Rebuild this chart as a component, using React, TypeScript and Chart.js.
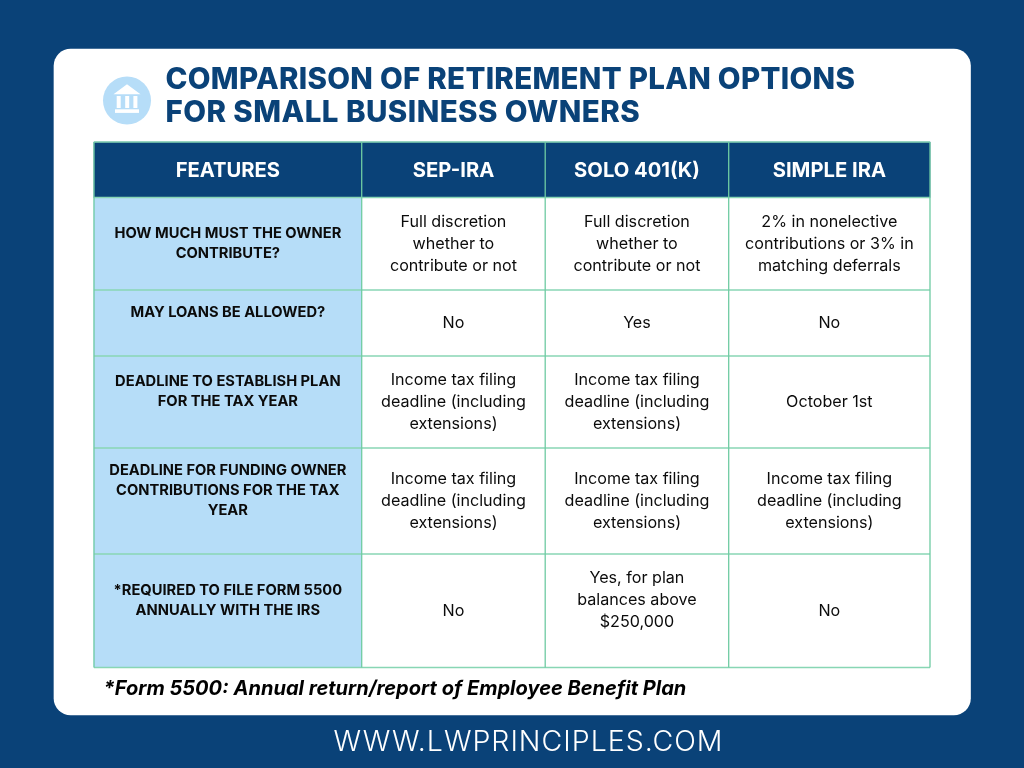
import React, { useEffect, useRef } from "react";
import { Chart, registerables } from "chart.js";

Chart.register(...registerables);

// ---- content ----
const titleLines = ["COMPARISON OF RETIREMENT PLAN OPTIONS", "FOR SMALL BUSINESS OWNERS"];
const columnHeaders = ["FEATURES", "SEP-IRA", "SOLO 401(K)", "SIMPLE IRA"];
const features = [
  ["HOW MUCH MUST THE OWNER", "CONTRIBUTE?"],
  ["MAY LOANS BE ALLOWED?"],
  ["DEADLINE TO ESTABLISH PLAN", "FOR THE TAX YEAR"],
  ["DEADLINE FOR FUNDING OWNER", "CONTRIBUTIONS FOR THE TAX", "YEAR"],
  ["*REQUIRED TO FILE FORM 5500", "ANNUALLY WITH THE IRS"],
];
const sepIra = [
  ["Full discretion", "whether to", "contribute or not"],
  ["No"],
  ["Income tax filing", "deadline (including", "extensions)"],
  ["Income tax filing", "deadline (including", "extensions)"],
  ["No"],
];
const solo401k = [
  ["Full discretion", "whether to", "contribute or not"],
  ["Yes"],
  ["Income tax filing", "deadline (including", "extensions)"],
  ["Income tax filing", "deadline (including", "extensions)"],
  ["Yes, for plan", "balances above", "$250,000"],
];
const simpleIra = [
  ["2% in nonelective", "contributions or 3% in", "matching deferrals"],
  ["No"],
  ["October 1st"],
  ["Income tax filing", "deadline (including", "extensions)"],
  ["No"],
];
const footnote = "*Form 5500: Annual return/report of Employee Benefit Plan";
const website = "WWW.LWPRINCIPLES.COM";

// ---- layout, in the units of the two linear scales ----
const colEdges = [94, 361.7, 545.2, 728.7, 930];
const rowEdges = [142, 197.5, 290, 356, 448, 554, 667.5];
const featureCentres = [243.8, 313, 392, 491, 601];
const cellCentres = [244, 323, 402, 501, 611];
const threeLineFinalCentre = 600;
const titleTracking = ["0.29px", "0.45px"];

const NAVY = "#0A4278";
const SKY = "#B6DDF8";
const GRID_V = "#6FCBA3";
const GRID_H = "#88D6B4";
const INK = "#0B0B0B";
const FAMILY = "Inter, 'Liberation Sans', sans-serif";

const rowBars = rowEdges.slice(0, -1).map((top, r) => {
  const bottom = rowEdges[r + 1];
  return {
    type: "bar" as const,
    order: 5,
    grouped: false,
    barThickness: bottom - top,
    borderWidth: 0,
    backgroundColor: columnHeaders.map((_, c) => (r === 0 ? NAVY : c === 0 ? SKY : "#FFFFFF")),
    data: columnHeaders.map((_, c) => ({ x: [colEdges[c], colEdges[c + 1]], y: (top + bottom) / 2 })),
  };
});

const gridLine = (pts: { x: number; y: number }[], color: string, width: number, order: number) => ({
  type: "line" as const,
  order,
  data: pts,
  borderColor: color,
  borderWidth: width,
  pointRadius: 0,
  fill: false,
  tension: 0,
});

const gridLines = [
  ...rowEdges.map((y) =>
    gridLine([{ x: colEdges[0], y }, { x: colEdges[colEdges.length - 1], y }], GRID_H, 1.6, 2)
  ),
  ...colEdges.map((x) =>
    gridLine([{ x, y: rowEdges[0] }, { x, y: rowEdges[rowEdges.length - 1] }], GRID_V, 1.3, 1)
  ),
];

const cardBar = {
  type: "bar" as const,
  order: 10,
  grouped: false,
  barThickness: 666,
  borderWidth: 0,
  borderRadius: 17,
  borderSkipped: false,
  backgroundColor: "#FFFFFF",
  data: [{ x: [54, 970.5], y: 382 }],
};

const iconDisc = {
  type: "scatter" as const,
  order: 4,
  data: [{ x: 127, y: 100.5 }],
  pointRadius: 24,
  pointHoverRadius: 24,
  pointBorderWidth: 0,
  pointBackgroundColor: SKY,
  showLine: false,
};

const tablePlugin = {
  id: "tableText",
  afterDatasetsDraw(chart: any) {
    const { ctx, scales } = chart;
    const X = (v: number) => scales.x.getPixelForValue(v);
    const Y = (v: number) => scales.y.getPixelForValue(v);

    const block = (lines: string[], cx: number, cy: number, lh: number, font: string, color: string, spacing = "0px") => {
      ctx.font = font;
      ctx.fillStyle = color;
      ctx.textAlign = "center";
      ctx.textBaseline = "middle";
      ctx.letterSpacing = spacing;
      lines.forEach((t, i) => ctx.fillText(t, X(cx), Y(cy + (i - (lines.length - 1) / 2) * lh)));
    };
    const left = (t: string, x: number, y: number, font: string, color: string, spacing = "0px") => {
      ctx.font = font;
      ctx.fillStyle = color;
      ctx.textAlign = "left";
      ctx.textBaseline = "middle";
      ctx.letterSpacing = spacing;
      ctx.fillText(t, X(x), Y(y));
    };

    ctx.save();

    // building glyph on the disc
    ctx.fillStyle = "#FFFFFF";
    ctx.beginPath();
    ctx.moveTo(X(127), Y(84.3));
    ctx.lineTo(X(140.5), Y(94.3));
    ctx.lineTo(X(113.5), Y(94.3));
    ctx.closePath();
    ctx.fill();
    [116.7, 125.2, 133.4].forEach((x) => ctx.fillRect(X(x), Y(96), 4, 12));
    ctx.fillRect(X(115), Y(109.3), 24, 3.6);

    // title
    titleLines.forEach((t, i) => left(t, 165.5, 80.5 + i * 33, `800 29.5px ${FAMILY}`, NAVY, titleTracking[i]));

    // headers
    columnHeaders.forEach((h, c) =>
      block([h], (colEdges[c] + colEdges[c + 1]) / 2, 171, 0, `700 20.2px ${FAMILY}`, "#FFFFFF")
    );

    // rows
    features.forEach((lines, r) =>
      block(lines, (colEdges[0] + colEdges[1]) / 2, featureCentres[r], 20, `700 14.7px ${FAMILY}`, INK)
    );
    [sepIra, solo401k, simpleIra].forEach((col, c) =>
      col.forEach((lines, r) => {
        const cy = lines.length === 3 && r === col.length - 1 ? threeLineFinalCentre : cellCentres[r];
        block(lines, (colEdges[c + 1] + colEdges[c + 2]) / 2, cy, 22, `400 16.13px ${FAMILY}`, INK);
      })
    );

    // footer
    left(footnote, 103.5, 689, `italic 700 20.05px ${FAMILY}`, "#000000");
    block([website], 528.5, 742, 0, `350 28.5px ${FAMILY}`, "#FFFFFF", "1px");

    ctx.restore();
  },
};

export default function App() {
  const ref = useRef<HTMLCanvasElement>(null);
  useEffect(() => {
    document.body.style.margin = "0";
    document.body.style.background = NAVY;
    const chart = new Chart(ref.current as HTMLCanvasElement, {
      data: { datasets: [cardBar, ...rowBars, iconDisc, ...gridLines] as any },
      options: {
        indexAxis: "y",
        animation: false,
        responsive: false,
        devicePixelRatio: 1,
        layout: { padding: 0, autoPadding: false },
        plugins: { legend: { display: false }, tooltip: { enabled: false }, title: { display: false } },
        events: [],
        scales: {
          x: { type: "linear", min: 0, max: 1024, display: false, offset: false },
          y: { type: "linear", min: 0, max: 768, reverse: true, display: false, offset: false },
        },
      } as any,
      plugins: [tablePlugin],
    });
    return () => chart.destroy();
  }, []);
  return <canvas ref={ref} width={1024} height={768} style={{ display: "block", background: NAVY }} />;
}
